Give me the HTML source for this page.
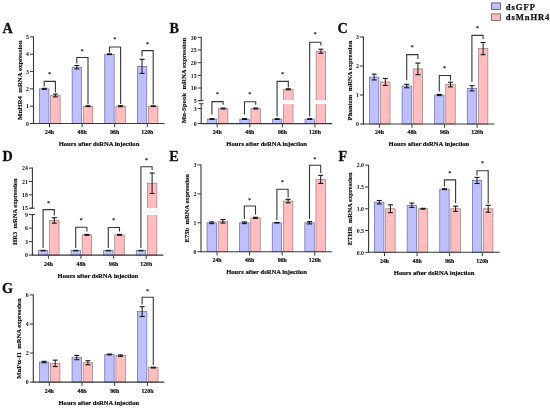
<!DOCTYPE html>
<html><head><meta charset="utf-8"><title>Figure</title>
<style>
html,body{margin:0;padding:0;background:#fff;}
body{width:550px;height:408px;overflow:hidden;}
svg{display:block;filter:blur(0.35px);}
svg text{font-family:'Liberation Serif', 'Times New Roman', serif;font-weight:bold;fill:#111;}
</style></head><body>
<svg width="550" height="408" viewBox="0 0 550 408">
<rect width="550" height="408" fill="#fff"/>
<rect x="39.55" y="88.86" width="9.4" height="34.64" fill="#bfbffc" stroke="#6868a8" stroke-width="0.7"/>
<line x1="44.25" y1="88.34" x2="44.25" y2="89.38" stroke="#161616" stroke-width="1.0"/>
<line x1="41.75" y1="88.34" x2="46.75" y2="88.34" stroke="#161616" stroke-width="1.1"/>
<line x1="41.75" y1="89.38" x2="46.75" y2="89.38" stroke="#161616" stroke-width="1.1"/>
<rect x="50.65" y="95.44" width="9.5" height="28.06" fill="#ffbdbf" stroke="#9a7c7e" stroke-width="0.7"/>
<line x1="55.4" y1="94.06" x2="55.4" y2="96.83" stroke="#161616" stroke-width="1.0"/>
<line x1="52.9" y1="94.06" x2="57.9" y2="94.06" stroke="#161616" stroke-width="1.1"/>
<line x1="52.9" y1="96.83" x2="57.9" y2="96.83" stroke="#161616" stroke-width="1.1"/>
<rect x="72.15" y="67.21" width="9.4" height="56.29" fill="#bfbffc" stroke="#6868a8" stroke-width="0.7"/>
<line x1="76.85" y1="65.48" x2="76.85" y2="68.94" stroke="#161616" stroke-width="1.0"/>
<line x1="74.35" y1="65.48" x2="79.35" y2="65.48" stroke="#161616" stroke-width="1.1"/>
<line x1="74.35" y1="68.94" x2="79.35" y2="68.94" stroke="#161616" stroke-width="1.1"/>
<rect x="83.25" y="106.18" width="9.5" height="17.32" fill="#ffbdbf" stroke="#9a7c7e" stroke-width="0.7"/>
<line x1="88" y1="105.83" x2="88" y2="106.53" stroke="#161616" stroke-width="1.0"/>
<line x1="85.5" y1="105.83" x2="90.5" y2="105.83" stroke="#161616" stroke-width="1.1"/>
<line x1="85.5" y1="106.53" x2="90.5" y2="106.53" stroke="#161616" stroke-width="1.1"/>
<rect x="104.75" y="54.22" width="9.4" height="69.28" fill="#bfbffc" stroke="#6868a8" stroke-width="0.7"/>
<line x1="109.45" y1="53.87" x2="109.45" y2="54.57" stroke="#161616" stroke-width="1.0"/>
<line x1="106.95" y1="53.87" x2="111.95" y2="53.87" stroke="#161616" stroke-width="1.1"/>
<line x1="106.95" y1="54.57" x2="111.95" y2="54.57" stroke="#161616" stroke-width="1.1"/>
<rect x="115.85" y="106.18" width="9.5" height="17.32" fill="#ffbdbf" stroke="#9a7c7e" stroke-width="0.7"/>
<line x1="120.6" y1="105.66" x2="120.6" y2="106.7" stroke="#161616" stroke-width="1.0"/>
<line x1="118.1" y1="105.66" x2="123.1" y2="105.66" stroke="#161616" stroke-width="1.1"/>
<line x1="118.1" y1="106.7" x2="123.1" y2="106.7" stroke="#161616" stroke-width="1.1"/>
<rect x="137.35" y="66.34" width="9.4" height="57.16" fill="#bfbffc" stroke="#6868a8" stroke-width="0.7"/>
<line x1="142.05" y1="59.24" x2="142.05" y2="73.45" stroke="#161616" stroke-width="1.0"/>
<line x1="139.55" y1="59.24" x2="144.55" y2="59.24" stroke="#161616" stroke-width="1.1"/>
<line x1="139.55" y1="73.45" x2="144.55" y2="73.45" stroke="#161616" stroke-width="1.1"/>
<rect x="148.45" y="106.18" width="9.5" height="17.32" fill="#ffbdbf" stroke="#9a7c7e" stroke-width="0.7"/>
<line x1="153.2" y1="105.83" x2="153.2" y2="106.53" stroke="#161616" stroke-width="1.0"/>
<line x1="150.7" y1="105.83" x2="155.7" y2="105.83" stroke="#161616" stroke-width="1.1"/>
<line x1="150.7" y1="106.53" x2="155.7" y2="106.53" stroke="#161616" stroke-width="1.1"/>
<polyline points="44.2,86.5 44.2,81.4 55.4,81.4 55.4,92.5" fill="none" stroke="#363636" stroke-width="1.1"/>
<text x="49.6" y="76" font-size="6.5" text-anchor="middle">*</text>
<polyline points="76.8,63.5 76.8,57.5 88,57.5 88,104.5" fill="none" stroke="#363636" stroke-width="1.1"/>
<text x="82.2" y="52.5" font-size="6.5" text-anchor="middle">*</text>
<polyline points="109.4,52.5 109.4,47 120.6,47 120.6,104" fill="none" stroke="#363636" stroke-width="1.1"/>
<text x="114.8" y="41.4" font-size="6.5" text-anchor="middle">*</text>
<polyline points="142,56.5 142,50.6 153.2,50.6 153.2,104.5" fill="none" stroke="#363636" stroke-width="1.1"/>
<text x="147.4" y="46" font-size="6.5" text-anchor="middle">*</text>
<line x1="33.5" y1="36.4" x2="33.5" y2="124" stroke="#363636" stroke-width="1.1"/>
<line x1="33" y1="123.5" x2="164.5" y2="123.5" stroke="#363636" stroke-width="1.1"/>
<line x1="29.9" y1="123.5" x2="33.5" y2="123.5" stroke="#363636" stroke-width="1.0"/>
<text x="28.9" y="125.7" font-size="5.8" text-anchor="end">0</text>
<line x1="29.9" y1="106.18" x2="33.5" y2="106.18" stroke="#363636" stroke-width="1.0"/>
<text x="28.9" y="108.38" font-size="5.8" text-anchor="end">1</text>
<line x1="29.9" y1="88.86" x2="33.5" y2="88.86" stroke="#363636" stroke-width="1.0"/>
<text x="28.9" y="91.06" font-size="5.8" text-anchor="end">2</text>
<line x1="29.9" y1="71.54" x2="33.5" y2="71.54" stroke="#363636" stroke-width="1.0"/>
<text x="28.9" y="73.74" font-size="5.8" text-anchor="end">3</text>
<line x1="29.9" y1="54.22" x2="33.5" y2="54.22" stroke="#363636" stroke-width="1.0"/>
<text x="28.9" y="56.42" font-size="5.8" text-anchor="end">4</text>
<line x1="29.9" y1="36.9" x2="33.5" y2="36.9" stroke="#363636" stroke-width="1.0"/>
<text x="28.9" y="39.1" font-size="5.8" text-anchor="end">5</text>
<line x1="49.5" y1="123.5" x2="49.5" y2="127.3" stroke="#363636" stroke-width="1.0"/>
<text x="49.5" y="133.9" font-size="5.8" text-anchor="middle" stroke="#111" stroke-width="0.18">24h</text>
<line x1="82.1" y1="123.5" x2="82.1" y2="127.3" stroke="#363636" stroke-width="1.0"/>
<text x="82.1" y="133.9" font-size="5.8" text-anchor="middle" stroke="#111" stroke-width="0.18">48h</text>
<line x1="114.7" y1="123.5" x2="114.7" y2="127.3" stroke="#363636" stroke-width="1.0"/>
<text x="114.7" y="133.9" font-size="5.8" text-anchor="middle" stroke="#111" stroke-width="0.18">96h</text>
<line x1="147.3" y1="123.5" x2="147.3" y2="127.3" stroke="#363636" stroke-width="1.0"/>
<text x="147.3" y="133.9" font-size="5.8" text-anchor="middle" stroke="#111" stroke-width="0.18">120h</text>
<text x="99" y="145.9" font-size="6.6" text-anchor="middle" stroke="#111" stroke-width="0.2">Hours after dsRNA injection</text>
<text x="0" y="0" font-size="6.8" text-anchor="middle" transform="translate(22.2 80.2) rotate(-90)" xml:space="preserve" stroke="#111" stroke-width="0.15">MnHR4  mRNA expression</text>
<text x="2.4" y="32.9" font-size="14.2" text-anchor="start" stroke="#111" stroke-width="0.3">A</text>
<rect x="207.25" y="119.07" width="9.4" height="4.53" fill="#bfbffc" stroke="#6868a8" stroke-width="0.7"/>
<line x1="211.95" y1="118.67" x2="211.95" y2="119.47" stroke="#161616" stroke-width="1.0"/>
<line x1="209.45" y1="118.67" x2="214.45" y2="118.67" stroke="#161616" stroke-width="1.1"/>
<line x1="209.45" y1="119.47" x2="214.45" y2="119.47" stroke="#161616" stroke-width="1.1"/>
<rect x="218.35" y="108.5" width="9.5" height="15.1" fill="#ffbdbf" stroke="#9a7c7e" stroke-width="0.7"/>
<line x1="223.1" y1="108" x2="223.1" y2="109" stroke="#161616" stroke-width="1.0"/>
<line x1="220.6" y1="108" x2="225.6" y2="108" stroke="#161616" stroke-width="1.1"/>
<line x1="220.6" y1="109" x2="225.6" y2="109" stroke="#161616" stroke-width="1.1"/>
<rect x="239.85" y="119.07" width="9.4" height="4.53" fill="#bfbffc" stroke="#6868a8" stroke-width="0.7"/>
<line x1="244.55" y1="118.67" x2="244.55" y2="119.47" stroke="#161616" stroke-width="1.0"/>
<line x1="242.05" y1="118.67" x2="247.05" y2="118.67" stroke="#161616" stroke-width="1.1"/>
<line x1="242.05" y1="119.47" x2="247.05" y2="119.47" stroke="#161616" stroke-width="1.1"/>
<rect x="250.95" y="108.5" width="9.5" height="15.1" fill="#ffbdbf" stroke="#9a7c7e" stroke-width="0.7"/>
<line x1="255.7" y1="108" x2="255.7" y2="109" stroke="#161616" stroke-width="1.0"/>
<line x1="253.2" y1="108" x2="258.2" y2="108" stroke="#161616" stroke-width="1.1"/>
<line x1="253.2" y1="109" x2="258.2" y2="109" stroke="#161616" stroke-width="1.1"/>
<rect x="272.45" y="119.07" width="9.4" height="4.53" fill="#bfbffc" stroke="#6868a8" stroke-width="0.7"/>
<line x1="277.15" y1="118.67" x2="277.15" y2="119.47" stroke="#161616" stroke-width="1.0"/>
<line x1="274.65" y1="118.67" x2="279.65" y2="118.67" stroke="#161616" stroke-width="1.1"/>
<line x1="274.65" y1="119.47" x2="279.65" y2="119.47" stroke="#161616" stroke-width="1.1"/>
<rect x="283.55" y="89.29" width="9.5" height="34.31" fill="#ffbdbf" stroke="#9a7c7e" stroke-width="0.7"/>
<rect x="282.6" y="100.1" width="11.4" height="4" fill="#fff"/>
<line x1="288.3" y1="88.78" x2="288.3" y2="89.8" stroke="#161616" stroke-width="1.0"/>
<line x1="285.8" y1="88.78" x2="290.8" y2="88.78" stroke="#161616" stroke-width="1.1"/>
<line x1="285.8" y1="89.8" x2="290.8" y2="89.8" stroke="#161616" stroke-width="1.1"/>
<rect x="305.05" y="119.07" width="9.4" height="4.53" fill="#bfbffc" stroke="#6868a8" stroke-width="0.7"/>
<line x1="309.75" y1="118.67" x2="309.75" y2="119.47" stroke="#161616" stroke-width="1.0"/>
<line x1="307.25" y1="118.67" x2="312.25" y2="118.67" stroke="#161616" stroke-width="1.1"/>
<line x1="307.25" y1="119.47" x2="312.25" y2="119.47" stroke="#161616" stroke-width="1.1"/>
<rect x="316.15" y="51.25" width="9.5" height="72.35" fill="#ffbdbf" stroke="#9a7c7e" stroke-width="0.7"/>
<rect x="315.2" y="100.1" width="11.4" height="4" fill="#fff"/>
<line x1="320.9" y1="49.22" x2="320.9" y2="53.28" stroke="#161616" stroke-width="1.0"/>
<line x1="318.4" y1="49.22" x2="323.4" y2="49.22" stroke="#161616" stroke-width="1.1"/>
<line x1="318.4" y1="53.28" x2="323.4" y2="53.28" stroke="#161616" stroke-width="1.1"/>
<polyline points="211.9,114.5 211.9,101.6 223.1,101.6 223.1,104.8" fill="none" stroke="#363636" stroke-width="1.1"/>
<text x="217.3" y="96.1" font-size="6.5" text-anchor="middle">*</text>
<polyline points="244.5,114.5 244.5,101.7 255.7,101.7 255.7,104.8" fill="none" stroke="#363636" stroke-width="1.1"/>
<text x="249.9" y="96.4" font-size="6.5" text-anchor="middle">*</text>
<polyline points="277.1,116.5 277.1,81.4 288.3,81.4 288.3,87.5" fill="none" stroke="#363636" stroke-width="1.1"/>
<text x="282.5" y="76.2" font-size="6.5" text-anchor="middle">*</text>
<polyline points="309.7,116.5 309.7,42.3 320.9,42.3 320.9,45.6" fill="none" stroke="#363636" stroke-width="1.1"/>
<text x="315.1" y="36.4" font-size="6.5" text-anchor="middle">*</text>
<line x1="201.2" y1="103.7" x2="201.2" y2="124.1" stroke="#363636" stroke-width="1.1"/>
<line x1="201.2" y1="36.8" x2="201.2" y2="100.7" stroke="#363636" stroke-width="1.1"/>
<line x1="198.8" y1="103.7" x2="203.6" y2="103.7" stroke="#363636" stroke-width="1.0"/>
<line x1="198.8" y1="100.7" x2="203.6" y2="100.7" stroke="#363636" stroke-width="1.0"/>
<line x1="200.7" y1="123.6" x2="332.2" y2="123.6" stroke="#363636" stroke-width="1.1"/>
<line x1="197.6" y1="123.6" x2="201.2" y2="123.6" stroke="#363636" stroke-width="1.0"/>
<text x="196.6" y="125.8" font-size="5.8" text-anchor="end">0</text>
<line x1="197.6" y1="108.5" x2="201.2" y2="108.5" stroke="#363636" stroke-width="1.0"/>
<text x="196.6" y="110.7" font-size="5.8" text-anchor="end">3</text>
<line x1="197.6" y1="100.7" x2="201.2" y2="100.7" stroke="#363636" stroke-width="1.0"/>
<text x="196.6" y="102.9" font-size="5.8" text-anchor="end">5</text>
<line x1="197.6" y1="88.02" x2="201.2" y2="88.02" stroke="#363636" stroke-width="1.0"/>
<text x="196.6" y="90.22" font-size="5.8" text-anchor="end">10</text>
<line x1="197.6" y1="75.34" x2="201.2" y2="75.34" stroke="#363636" stroke-width="1.0"/>
<text x="196.6" y="77.54" font-size="5.8" text-anchor="end">15</text>
<line x1="197.6" y1="62.66" x2="201.2" y2="62.66" stroke="#363636" stroke-width="1.0"/>
<text x="196.6" y="64.86" font-size="5.8" text-anchor="end">20</text>
<line x1="197.6" y1="49.98" x2="201.2" y2="49.98" stroke="#363636" stroke-width="1.0"/>
<text x="196.6" y="52.18" font-size="5.8" text-anchor="end">25</text>
<line x1="197.6" y1="37.3" x2="201.2" y2="37.3" stroke="#363636" stroke-width="1.0"/>
<text x="196.6" y="39.5" font-size="5.8" text-anchor="end">30</text>
<line x1="217.2" y1="123.6" x2="217.2" y2="127.4" stroke="#363636" stroke-width="1.0"/>
<text x="217.2" y="134" font-size="5.8" text-anchor="middle" stroke="#111" stroke-width="0.18">24h</text>
<line x1="249.8" y1="123.6" x2="249.8" y2="127.4" stroke="#363636" stroke-width="1.0"/>
<text x="249.8" y="134" font-size="5.8" text-anchor="middle" stroke="#111" stroke-width="0.18">48h</text>
<line x1="282.4" y1="123.6" x2="282.4" y2="127.4" stroke="#363636" stroke-width="1.0"/>
<text x="282.4" y="134" font-size="5.8" text-anchor="middle" stroke="#111" stroke-width="0.18">96h</text>
<line x1="315" y1="123.6" x2="315" y2="127.4" stroke="#363636" stroke-width="1.0"/>
<text x="315" y="134" font-size="5.8" text-anchor="middle" stroke="#111" stroke-width="0.18">120h</text>
<text x="266.7" y="146" font-size="6.6" text-anchor="middle" stroke="#111" stroke-width="0.2">Hours after dsRNA injection</text>
<text x="0" y="0" font-size="6.75" text-anchor="middle" transform="translate(185.6 80.5) rotate(-90)" xml:space="preserve" stroke="#111" stroke-width="0.15">Mn-Spook  mRNA expression</text>
<text x="169.4" y="32.6" font-size="14.2" text-anchor="start" stroke="#111" stroke-width="0.3">B</text>
<rect x="369.45" y="77.02" width="9.4" height="46.98" fill="#bfbffc" stroke="#6868a8" stroke-width="0.7"/>
<line x1="374.15" y1="74.12" x2="374.15" y2="79.92" stroke="#161616" stroke-width="1.0"/>
<line x1="371.65" y1="74.12" x2="376.65" y2="74.12" stroke="#161616" stroke-width="1.1"/>
<line x1="371.65" y1="79.92" x2="376.65" y2="79.92" stroke="#161616" stroke-width="1.1"/>
<rect x="380.55" y="81.95" width="9.5" height="42.05" fill="#ffbdbf" stroke="#9a7c7e" stroke-width="0.7"/>
<line x1="385.3" y1="78.47" x2="385.3" y2="85.43" stroke="#161616" stroke-width="1.0"/>
<line x1="382.8" y1="78.47" x2="387.8" y2="78.47" stroke="#161616" stroke-width="1.1"/>
<line x1="382.8" y1="85.43" x2="387.8" y2="85.43" stroke="#161616" stroke-width="1.1"/>
<rect x="402.05" y="86.01" width="9.4" height="37.99" fill="#bfbffc" stroke="#6868a8" stroke-width="0.7"/>
<line x1="406.75" y1="84.27" x2="406.75" y2="87.75" stroke="#161616" stroke-width="1.0"/>
<line x1="404.25" y1="84.27" x2="409.25" y2="84.27" stroke="#161616" stroke-width="1.1"/>
<line x1="404.25" y1="87.75" x2="409.25" y2="87.75" stroke="#161616" stroke-width="1.1"/>
<rect x="413.15" y="68.9" width="9.5" height="55.1" fill="#ffbdbf" stroke="#9a7c7e" stroke-width="0.7"/>
<line x1="417.9" y1="63.1" x2="417.9" y2="74.7" stroke="#161616" stroke-width="1.0"/>
<line x1="415.4" y1="63.1" x2="420.4" y2="63.1" stroke="#161616" stroke-width="1.1"/>
<line x1="415.4" y1="74.7" x2="420.4" y2="74.7" stroke="#161616" stroke-width="1.1"/>
<rect x="434.65" y="95" width="9.4" height="29" fill="#bfbffc" stroke="#6868a8" stroke-width="0.7"/>
<line x1="439.35" y1="94.42" x2="439.35" y2="95.58" stroke="#161616" stroke-width="1.0"/>
<line x1="436.85" y1="94.42" x2="441.85" y2="94.42" stroke="#161616" stroke-width="1.1"/>
<line x1="436.85" y1="95.58" x2="441.85" y2="95.58" stroke="#161616" stroke-width="1.1"/>
<rect x="445.75" y="84.56" width="9.5" height="39.44" fill="#ffbdbf" stroke="#9a7c7e" stroke-width="0.7"/>
<line x1="450.5" y1="82.24" x2="450.5" y2="86.88" stroke="#161616" stroke-width="1.0"/>
<line x1="448" y1="82.24" x2="453" y2="82.24" stroke="#161616" stroke-width="1.1"/>
<line x1="448" y1="86.88" x2="453" y2="86.88" stroke="#161616" stroke-width="1.1"/>
<rect x="467.25" y="88.33" width="9.4" height="35.67" fill="#bfbffc" stroke="#6868a8" stroke-width="0.7"/>
<line x1="471.95" y1="85.72" x2="471.95" y2="90.94" stroke="#161616" stroke-width="1.0"/>
<line x1="469.45" y1="85.72" x2="474.45" y2="85.72" stroke="#161616" stroke-width="1.1"/>
<line x1="469.45" y1="90.94" x2="474.45" y2="90.94" stroke="#161616" stroke-width="1.1"/>
<rect x="478.35" y="48.6" width="9.5" height="75.4" fill="#ffbdbf" stroke="#9a7c7e" stroke-width="0.7"/>
<line x1="483.1" y1="42.51" x2="483.1" y2="54.69" stroke="#161616" stroke-width="1.0"/>
<line x1="480.6" y1="42.51" x2="485.6" y2="42.51" stroke="#161616" stroke-width="1.1"/>
<line x1="480.6" y1="54.69" x2="485.6" y2="54.69" stroke="#161616" stroke-width="1.1"/>
<polyline points="406.7,80.3 406.7,54.6 417.9,54.6 417.9,59" fill="none" stroke="#363636" stroke-width="1.1"/>
<text x="412.1" y="48.8" font-size="6.5" text-anchor="middle">*</text>
<polyline points="439.3,91.5 439.3,75.5 450.5,75.5 450.5,80.5" fill="none" stroke="#363636" stroke-width="1.1"/>
<text x="444.7" y="70.2" font-size="6.5" text-anchor="middle">*</text>
<polyline points="471.9,82 471.9,35.4 483.1,35.4 483.1,39" fill="none" stroke="#363636" stroke-width="1.1"/>
<text x="477.3" y="30.2" font-size="6.5" text-anchor="middle">*</text>
<line x1="363.4" y1="36.5" x2="363.4" y2="124.5" stroke="#363636" stroke-width="1.1"/>
<line x1="362.9" y1="124" x2="494.4" y2="124" stroke="#363636" stroke-width="1.1"/>
<line x1="359.8" y1="124" x2="363.4" y2="124" stroke="#363636" stroke-width="1.0"/>
<text x="358.8" y="126.2" font-size="5.8" text-anchor="end">0</text>
<line x1="359.8" y1="95" x2="363.4" y2="95" stroke="#363636" stroke-width="1.0"/>
<text x="358.8" y="97.2" font-size="5.8" text-anchor="end">1</text>
<line x1="359.8" y1="66" x2="363.4" y2="66" stroke="#363636" stroke-width="1.0"/>
<text x="358.8" y="68.2" font-size="5.8" text-anchor="end">2</text>
<line x1="359.8" y1="37" x2="363.4" y2="37" stroke="#363636" stroke-width="1.0"/>
<text x="358.8" y="39.2" font-size="5.8" text-anchor="end">3</text>
<line x1="379.4" y1="124" x2="379.4" y2="127.8" stroke="#363636" stroke-width="1.0"/>
<text x="379.4" y="134.4" font-size="5.8" text-anchor="middle" stroke="#111" stroke-width="0.18">24h</text>
<line x1="412" y1="124" x2="412" y2="127.8" stroke="#363636" stroke-width="1.0"/>
<text x="412" y="134.4" font-size="5.8" text-anchor="middle" stroke="#111" stroke-width="0.18">48h</text>
<line x1="444.6" y1="124" x2="444.6" y2="127.8" stroke="#363636" stroke-width="1.0"/>
<text x="444.6" y="134.4" font-size="5.8" text-anchor="middle" stroke="#111" stroke-width="0.18">96h</text>
<line x1="477.2" y1="124" x2="477.2" y2="127.8" stroke="#363636" stroke-width="1.0"/>
<text x="477.2" y="134.4" font-size="5.8" text-anchor="middle" stroke="#111" stroke-width="0.18">120h</text>
<text x="428.9" y="146.4" font-size="6.6" text-anchor="middle" stroke="#111" stroke-width="0.2">Hours after dsRNA injection</text>
<text x="0" y="0" font-size="6.62" text-anchor="middle" transform="translate(352.2 80.5) rotate(-90)" xml:space="preserve" stroke="#111" stroke-width="0.15">Phantom  mRNA expression</text>
<text x="337.4" y="33.2" font-size="14.2" text-anchor="start" stroke="#111" stroke-width="0.3">C</text>
<rect x="38.45" y="250.6" width="9.4" height="4.5" fill="#bfbffc" stroke="#6868a8" stroke-width="0.7"/>
<line x1="43.15" y1="250.38" x2="43.15" y2="250.82" stroke="#161616" stroke-width="1.0"/>
<line x1="40.65" y1="250.38" x2="45.65" y2="250.38" stroke="#161616" stroke-width="1.1"/>
<line x1="40.65" y1="250.82" x2="45.65" y2="250.82" stroke="#161616" stroke-width="1.1"/>
<rect x="49.55" y="220.45" width="9.5" height="34.65" fill="#ffbdbf" stroke="#9a7c7e" stroke-width="0.7"/>
<line x1="54.3" y1="217.75" x2="54.3" y2="223.15" stroke="#161616" stroke-width="1.0"/>
<line x1="51.8" y1="217.75" x2="56.8" y2="217.75" stroke="#161616" stroke-width="1.1"/>
<line x1="51.8" y1="223.15" x2="56.8" y2="223.15" stroke="#161616" stroke-width="1.1"/>
<rect x="71.05" y="250.6" width="9.4" height="4.5" fill="#bfbffc" stroke="#6868a8" stroke-width="0.7"/>
<line x1="75.75" y1="250.38" x2="75.75" y2="250.82" stroke="#161616" stroke-width="1.0"/>
<line x1="73.25" y1="250.38" x2="78.25" y2="250.38" stroke="#161616" stroke-width="1.1"/>
<line x1="73.25" y1="250.82" x2="78.25" y2="250.82" stroke="#161616" stroke-width="1.1"/>
<rect x="82.15" y="234.85" width="9.5" height="20.25" fill="#ffbdbf" stroke="#9a7c7e" stroke-width="0.7"/>
<line x1="86.9" y1="234.4" x2="86.9" y2="235.3" stroke="#161616" stroke-width="1.0"/>
<line x1="84.4" y1="234.4" x2="89.4" y2="234.4" stroke="#161616" stroke-width="1.1"/>
<line x1="84.4" y1="235.3" x2="89.4" y2="235.3" stroke="#161616" stroke-width="1.1"/>
<rect x="103.65" y="250.6" width="9.4" height="4.5" fill="#bfbffc" stroke="#6868a8" stroke-width="0.7"/>
<line x1="108.35" y1="250.38" x2="108.35" y2="250.82" stroke="#161616" stroke-width="1.0"/>
<line x1="105.85" y1="250.38" x2="110.85" y2="250.38" stroke="#161616" stroke-width="1.1"/>
<line x1="105.85" y1="250.82" x2="110.85" y2="250.82" stroke="#161616" stroke-width="1.1"/>
<rect x="114.75" y="234.85" width="9.5" height="20.25" fill="#ffbdbf" stroke="#9a7c7e" stroke-width="0.7"/>
<line x1="119.5" y1="234.4" x2="119.5" y2="235.3" stroke="#161616" stroke-width="1.0"/>
<line x1="117" y1="234.4" x2="122" y2="234.4" stroke="#161616" stroke-width="1.1"/>
<line x1="117" y1="235.3" x2="122" y2="235.3" stroke="#161616" stroke-width="1.1"/>
<rect x="136.25" y="250.6" width="9.4" height="4.5" fill="#bfbffc" stroke="#6868a8" stroke-width="0.7"/>
<line x1="140.95" y1="250.38" x2="140.95" y2="250.82" stroke="#161616" stroke-width="1.0"/>
<line x1="138.45" y1="250.38" x2="143.45" y2="250.38" stroke="#161616" stroke-width="1.1"/>
<line x1="138.45" y1="250.82" x2="143.45" y2="250.82" stroke="#161616" stroke-width="1.1"/>
<rect x="147.35" y="183.25" width="9.5" height="71.85" fill="#ffbdbf" stroke="#9a7c7e" stroke-width="0.7"/>
<rect x="146.4" y="208" width="11.4" height="7" fill="#fff"/>
<line x1="152.1" y1="173" x2="152.1" y2="193.5" stroke="#161616" stroke-width="1.0"/>
<line x1="149.6" y1="173" x2="154.6" y2="173" stroke="#161616" stroke-width="1.1"/>
<line x1="149.6" y1="193.5" x2="154.6" y2="193.5" stroke="#161616" stroke-width="1.1"/>
<polyline points="43.1,248 43.1,209.6 54.3,209.6 54.3,215.5" fill="none" stroke="#363636" stroke-width="1.1"/>
<text x="48.5" y="204.5" font-size="6.5" text-anchor="middle">*</text>
<polyline points="75.7,248 75.7,227.3 86.9,227.3 86.9,231.5" fill="none" stroke="#363636" stroke-width="1.1"/>
<text x="81.1" y="222.3" font-size="6.5" text-anchor="middle">*</text>
<polyline points="108.3,248 108.3,227.5 119.5,227.5 119.5,231.5" fill="none" stroke="#363636" stroke-width="1.1"/>
<text x="113.7" y="222" font-size="6.5" text-anchor="middle">*</text>
<polyline points="140.9,248 140.9,166.8 152.1,166.8 152.1,170" fill="none" stroke="#363636" stroke-width="1.1"/>
<text x="146.3" y="161.6" font-size="6.5" text-anchor="middle">*</text>
<line x1="32.4" y1="214.5" x2="32.4" y2="255.6" stroke="#363636" stroke-width="1.1"/>
<line x1="32.4" y1="167.6" x2="32.4" y2="208.2" stroke="#363636" stroke-width="1.1"/>
<line x1="30" y1="214.5" x2="34.8" y2="214.5" stroke="#363636" stroke-width="1.0"/>
<line x1="30" y1="208.2" x2="34.8" y2="208.2" stroke="#363636" stroke-width="1.0"/>
<line x1="31.9" y1="255.1" x2="163.4" y2="255.1" stroke="#363636" stroke-width="1.1"/>
<line x1="28.8" y1="255.1" x2="32.4" y2="255.1" stroke="#363636" stroke-width="1.0"/>
<text x="27.8" y="257.3" font-size="5.8" text-anchor="end">0</text>
<line x1="28.8" y1="241.6" x2="32.4" y2="241.6" stroke="#363636" stroke-width="1.0"/>
<text x="27.8" y="243.8" font-size="5.8" text-anchor="end">3</text>
<line x1="28.8" y1="228.1" x2="32.4" y2="228.1" stroke="#363636" stroke-width="1.0"/>
<text x="27.8" y="230.3" font-size="5.8" text-anchor="end">6</text>
<line x1="28.8" y1="214.6" x2="32.4" y2="214.6" stroke="#363636" stroke-width="1.0"/>
<text x="27.8" y="216.8" font-size="5.8" text-anchor="end">9</text>
<line x1="28.8" y1="208.2" x2="32.4" y2="208.2" stroke="#363636" stroke-width="1.0"/>
<text x="27.8" y="210.4" font-size="5.8" text-anchor="end">15</text>
<line x1="28.8" y1="194.83" x2="32.4" y2="194.83" stroke="#363636" stroke-width="1.0"/>
<text x="27.8" y="197.03" font-size="5.8" text-anchor="end">18</text>
<line x1="28.8" y1="181.47" x2="32.4" y2="181.47" stroke="#363636" stroke-width="1.0"/>
<text x="27.8" y="183.67" font-size="5.8" text-anchor="end">21</text>
<line x1="28.8" y1="168.1" x2="32.4" y2="168.1" stroke="#363636" stroke-width="1.0"/>
<text x="27.8" y="170.3" font-size="5.8" text-anchor="end">24</text>
<line x1="48.4" y1="255.1" x2="48.4" y2="258.9" stroke="#363636" stroke-width="1.0"/>
<text x="48.4" y="265.5" font-size="5.8" text-anchor="middle" stroke="#111" stroke-width="0.18">24h</text>
<line x1="81" y1="255.1" x2="81" y2="258.9" stroke="#363636" stroke-width="1.0"/>
<text x="81" y="265.5" font-size="5.8" text-anchor="middle" stroke="#111" stroke-width="0.18">48h</text>
<line x1="113.6" y1="255.1" x2="113.6" y2="258.9" stroke="#363636" stroke-width="1.0"/>
<text x="113.6" y="265.5" font-size="5.8" text-anchor="middle" stroke="#111" stroke-width="0.18">96h</text>
<line x1="146.2" y1="255.1" x2="146.2" y2="258.9" stroke="#363636" stroke-width="1.0"/>
<text x="146.2" y="265.5" font-size="5.8" text-anchor="middle" stroke="#111" stroke-width="0.18">120h</text>
<text x="97.9" y="277.5" font-size="6.6" text-anchor="middle" stroke="#111" stroke-width="0.2">Hours after dsRNA injection</text>
<text x="0" y="0" font-size="6.55" text-anchor="middle" transform="translate(17.2 211.6) rotate(-90)" xml:space="preserve" stroke="#111" stroke-width="0.15">HR3  mRNA expression</text>
<text x="2.6" y="161" font-size="14.2" text-anchor="start" stroke="#111" stroke-width="0.3">D</text>
<rect x="207.05" y="222.77" width="9.4" height="28.93" fill="#bfbffc" stroke="#6868a8" stroke-width="0.7"/>
<line x1="211.75" y1="221.9" x2="211.75" y2="223.63" stroke="#161616" stroke-width="1.0"/>
<line x1="209.25" y1="221.9" x2="214.25" y2="221.9" stroke="#161616" stroke-width="1.1"/>
<line x1="209.25" y1="223.63" x2="214.25" y2="223.63" stroke="#161616" stroke-width="1.1"/>
<rect x="218.15" y="221.32" width="9.5" height="30.38" fill="#ffbdbf" stroke="#9a7c7e" stroke-width="0.7"/>
<line x1="222.9" y1="219.58" x2="222.9" y2="223.06" stroke="#161616" stroke-width="1.0"/>
<line x1="220.4" y1="219.58" x2="225.4" y2="219.58" stroke="#161616" stroke-width="1.1"/>
<line x1="220.4" y1="223.06" x2="225.4" y2="223.06" stroke="#161616" stroke-width="1.1"/>
<rect x="239.65" y="222.77" width="9.4" height="28.93" fill="#bfbffc" stroke="#6868a8" stroke-width="0.7"/>
<line x1="244.35" y1="221.9" x2="244.35" y2="223.63" stroke="#161616" stroke-width="1.0"/>
<line x1="241.85" y1="221.9" x2="246.85" y2="221.9" stroke="#161616" stroke-width="1.1"/>
<line x1="241.85" y1="223.63" x2="246.85" y2="223.63" stroke="#161616" stroke-width="1.1"/>
<rect x="250.75" y="217.85" width="9.5" height="33.85" fill="#ffbdbf" stroke="#9a7c7e" stroke-width="0.7"/>
<line x1="255.5" y1="217.27" x2="255.5" y2="218.43" stroke="#161616" stroke-width="1.0"/>
<line x1="253" y1="217.27" x2="258" y2="217.27" stroke="#161616" stroke-width="1.1"/>
<line x1="253" y1="218.43" x2="258" y2="218.43" stroke="#161616" stroke-width="1.1"/>
<rect x="272.25" y="222.77" width="9.4" height="28.93" fill="#bfbffc" stroke="#6868a8" stroke-width="0.7"/>
<line x1="276.95" y1="222.48" x2="276.95" y2="223.06" stroke="#161616" stroke-width="1.0"/>
<line x1="274.45" y1="222.48" x2="279.45" y2="222.48" stroke="#161616" stroke-width="1.1"/>
<line x1="274.45" y1="223.06" x2="279.45" y2="223.06" stroke="#161616" stroke-width="1.1"/>
<rect x="283.35" y="201.07" width="9.5" height="50.63" fill="#ffbdbf" stroke="#9a7c7e" stroke-width="0.7"/>
<line x1="288.1" y1="199.33" x2="288.1" y2="202.8" stroke="#161616" stroke-width="1.0"/>
<line x1="285.6" y1="199.33" x2="290.6" y2="199.33" stroke="#161616" stroke-width="1.1"/>
<line x1="285.6" y1="202.8" x2="290.6" y2="202.8" stroke="#161616" stroke-width="1.1"/>
<rect x="304.85" y="222.77" width="9.4" height="28.93" fill="#bfbffc" stroke="#6868a8" stroke-width="0.7"/>
<line x1="309.55" y1="221.61" x2="309.55" y2="223.92" stroke="#161616" stroke-width="1.0"/>
<line x1="307.05" y1="221.61" x2="312.05" y2="221.61" stroke="#161616" stroke-width="1.1"/>
<line x1="307.05" y1="223.92" x2="312.05" y2="223.92" stroke="#161616" stroke-width="1.1"/>
<rect x="315.95" y="179.37" width="9.5" height="72.33" fill="#ffbdbf" stroke="#9a7c7e" stroke-width="0.7"/>
<line x1="320.7" y1="175.32" x2="320.7" y2="183.42" stroke="#161616" stroke-width="1.0"/>
<line x1="318.2" y1="175.32" x2="323.2" y2="175.32" stroke="#161616" stroke-width="1.1"/>
<line x1="318.2" y1="183.42" x2="323.2" y2="183.42" stroke="#161616" stroke-width="1.1"/>
<polyline points="244.3,219 244.3,206 255.5,206 255.5,214.5" fill="none" stroke="#363636" stroke-width="1.1"/>
<text x="249.7" y="201.7" font-size="6.5" text-anchor="middle">*</text>
<polyline points="276.9,220 276.9,189.3 288.1,189.3 288.1,197.5" fill="none" stroke="#363636" stroke-width="1.1"/>
<text x="282.3" y="184" font-size="6.5" text-anchor="middle">*</text>
<polyline points="309.5,219 309.5,165.3 320.7,165.3 320.7,173" fill="none" stroke="#363636" stroke-width="1.1"/>
<text x="314.9" y="160.8" font-size="6.5" text-anchor="middle">*</text>
<line x1="201" y1="164.4" x2="201" y2="252.2" stroke="#363636" stroke-width="1.1"/>
<line x1="200.5" y1="251.7" x2="332" y2="251.7" stroke="#363636" stroke-width="1.1"/>
<line x1="197.4" y1="251.7" x2="201" y2="251.7" stroke="#363636" stroke-width="1.0"/>
<text x="196.4" y="253.9" font-size="5.8" text-anchor="end">0</text>
<line x1="197.4" y1="222.77" x2="201" y2="222.77" stroke="#363636" stroke-width="1.0"/>
<text x="196.4" y="224.97" font-size="5.8" text-anchor="end">1</text>
<line x1="197.4" y1="193.83" x2="201" y2="193.83" stroke="#363636" stroke-width="1.0"/>
<text x="196.4" y="196.03" font-size="5.8" text-anchor="end">2</text>
<line x1="197.4" y1="164.9" x2="201" y2="164.9" stroke="#363636" stroke-width="1.0"/>
<text x="196.4" y="167.1" font-size="5.8" text-anchor="end">3</text>
<line x1="217" y1="251.7" x2="217" y2="255.5" stroke="#363636" stroke-width="1.0"/>
<text x="217" y="262.1" font-size="5.8" text-anchor="middle" stroke="#111" stroke-width="0.18">24h</text>
<line x1="249.6" y1="251.7" x2="249.6" y2="255.5" stroke="#363636" stroke-width="1.0"/>
<text x="249.6" y="262.1" font-size="5.8" text-anchor="middle" stroke="#111" stroke-width="0.18">48h</text>
<line x1="282.2" y1="251.7" x2="282.2" y2="255.5" stroke="#363636" stroke-width="1.0"/>
<text x="282.2" y="262.1" font-size="5.8" text-anchor="middle" stroke="#111" stroke-width="0.18">96h</text>
<line x1="314.8" y1="251.7" x2="314.8" y2="255.5" stroke="#363636" stroke-width="1.0"/>
<text x="314.8" y="262.1" font-size="5.8" text-anchor="middle" stroke="#111" stroke-width="0.18">120h</text>
<text x="266.5" y="274.1" font-size="6.6" text-anchor="middle" stroke="#111" stroke-width="0.2">Hours after dsRNA injection</text>
<text x="0" y="0" font-size="6.58" text-anchor="middle" transform="translate(189 208.3) rotate(-90)" xml:space="preserve" stroke="#111" stroke-width="0.15">E75b  mRNA expression</text>
<text x="169.2" y="161" font-size="14.2" text-anchor="start" stroke="#111" stroke-width="0.3">E</text>
<rect x="374.55" y="202.22" width="9.4" height="50.08" fill="#bfbffc" stroke="#6868a8" stroke-width="0.7"/>
<line x1="379.25" y1="200.48" x2="379.25" y2="203.96" stroke="#161616" stroke-width="1.0"/>
<line x1="376.75" y1="200.48" x2="381.75" y2="200.48" stroke="#161616" stroke-width="1.1"/>
<line x1="376.75" y1="203.96" x2="381.75" y2="203.96" stroke="#161616" stroke-width="1.1"/>
<rect x="385.65" y="208.75" width="9.5" height="43.55" fill="#ffbdbf" stroke="#9a7c7e" stroke-width="0.7"/>
<line x1="390.4" y1="204.83" x2="390.4" y2="212.67" stroke="#161616" stroke-width="1.0"/>
<line x1="387.9" y1="204.83" x2="392.9" y2="204.83" stroke="#161616" stroke-width="1.1"/>
<line x1="387.9" y1="212.67" x2="392.9" y2="212.67" stroke="#161616" stroke-width="1.1"/>
<rect x="407.15" y="205.27" width="9.4" height="47.03" fill="#bfbffc" stroke="#6868a8" stroke-width="0.7"/>
<line x1="411.85" y1="203.09" x2="411.85" y2="207.44" stroke="#161616" stroke-width="1.0"/>
<line x1="409.35" y1="203.09" x2="414.35" y2="203.09" stroke="#161616" stroke-width="1.1"/>
<line x1="409.35" y1="207.44" x2="414.35" y2="207.44" stroke="#161616" stroke-width="1.1"/>
<rect x="418.25" y="208.75" width="9.5" height="43.55" fill="#ffbdbf" stroke="#9a7c7e" stroke-width="0.7"/>
<line x1="423" y1="208.31" x2="423" y2="209.19" stroke="#161616" stroke-width="1.0"/>
<line x1="420.5" y1="208.31" x2="425.5" y2="208.31" stroke="#161616" stroke-width="1.1"/>
<line x1="420.5" y1="209.19" x2="425.5" y2="209.19" stroke="#161616" stroke-width="1.1"/>
<rect x="439.75" y="189.15" width="9.4" height="63.15" fill="#bfbffc" stroke="#6868a8" stroke-width="0.7"/>
<line x1="444.45" y1="188.72" x2="444.45" y2="189.59" stroke="#161616" stroke-width="1.0"/>
<line x1="441.95" y1="188.72" x2="446.95" y2="188.72" stroke="#161616" stroke-width="1.1"/>
<line x1="441.95" y1="189.59" x2="446.95" y2="189.59" stroke="#161616" stroke-width="1.1"/>
<rect x="450.85" y="208.75" width="9.5" height="43.55" fill="#ffbdbf" stroke="#9a7c7e" stroke-width="0.7"/>
<line x1="455.6" y1="206.14" x2="455.6" y2="211.36" stroke="#161616" stroke-width="1.0"/>
<line x1="453.1" y1="206.14" x2="458.1" y2="206.14" stroke="#161616" stroke-width="1.1"/>
<line x1="453.1" y1="211.36" x2="458.1" y2="211.36" stroke="#161616" stroke-width="1.1"/>
<rect x="472.35" y="180.44" width="9.4" height="71.86" fill="#bfbffc" stroke="#6868a8" stroke-width="0.7"/>
<line x1="477.05" y1="177.39" x2="477.05" y2="183.49" stroke="#161616" stroke-width="1.0"/>
<line x1="474.55" y1="177.39" x2="479.55" y2="177.39" stroke="#161616" stroke-width="1.1"/>
<line x1="474.55" y1="183.49" x2="479.55" y2="183.49" stroke="#161616" stroke-width="1.1"/>
<rect x="483.45" y="208.75" width="9.5" height="43.55" fill="#ffbdbf" stroke="#9a7c7e" stroke-width="0.7"/>
<line x1="488.2" y1="205.27" x2="488.2" y2="212.23" stroke="#161616" stroke-width="1.0"/>
<line x1="485.7" y1="205.27" x2="490.7" y2="205.27" stroke="#161616" stroke-width="1.1"/>
<line x1="485.7" y1="212.23" x2="490.7" y2="212.23" stroke="#161616" stroke-width="1.1"/>
<polyline points="444.4,186.5 444.4,179.9 455.6,179.9 455.6,203" fill="none" stroke="#363636" stroke-width="1.1"/>
<text x="449.8" y="174.9" font-size="6.5" text-anchor="middle">*</text>
<polyline points="477,175.5 477,170.8 488.2,170.8 488.2,203.5" fill="none" stroke="#363636" stroke-width="1.1"/>
<text x="482.4" y="165.1" font-size="6.5" text-anchor="middle">*</text>
<line x1="368.6" y1="164.7" x2="368.6" y2="252.8" stroke="#363636" stroke-width="1.1"/>
<line x1="368.1" y1="252.3" x2="499.6" y2="252.3" stroke="#363636" stroke-width="1.1"/>
<line x1="365" y1="252.3" x2="368.6" y2="252.3" stroke="#363636" stroke-width="1.0"/>
<text x="364" y="254.5" font-size="5.8" text-anchor="end">0.0</text>
<line x1="365" y1="230.53" x2="368.6" y2="230.53" stroke="#363636" stroke-width="1.0"/>
<text x="364" y="232.72" font-size="5.8" text-anchor="end">0.5</text>
<line x1="365" y1="208.75" x2="368.6" y2="208.75" stroke="#363636" stroke-width="1.0"/>
<text x="364" y="210.95" font-size="5.8" text-anchor="end">1.0</text>
<line x1="365" y1="186.97" x2="368.6" y2="186.97" stroke="#363636" stroke-width="1.0"/>
<text x="364" y="189.17" font-size="5.8" text-anchor="end">1.5</text>
<line x1="365" y1="165.2" x2="368.6" y2="165.2" stroke="#363636" stroke-width="1.0"/>
<text x="364" y="167.4" font-size="5.8" text-anchor="end">2.0</text>
<line x1="384.5" y1="252.3" x2="384.5" y2="256.1" stroke="#363636" stroke-width="1.0"/>
<text x="384.5" y="262.7" font-size="5.8" text-anchor="middle" stroke="#111" stroke-width="0.18">24h</text>
<line x1="417.1" y1="252.3" x2="417.1" y2="256.1" stroke="#363636" stroke-width="1.0"/>
<text x="417.1" y="262.7" font-size="5.8" text-anchor="middle" stroke="#111" stroke-width="0.18">48h</text>
<line x1="449.7" y1="252.3" x2="449.7" y2="256.1" stroke="#363636" stroke-width="1.0"/>
<text x="449.7" y="262.7" font-size="5.8" text-anchor="middle" stroke="#111" stroke-width="0.18">96h</text>
<line x1="482.3" y1="252.3" x2="482.3" y2="256.1" stroke="#363636" stroke-width="1.0"/>
<text x="482.3" y="262.7" font-size="5.8" text-anchor="middle" stroke="#111" stroke-width="0.18">120h</text>
<text x="434.1" y="274.7" font-size="6.6" text-anchor="middle" stroke="#111" stroke-width="0.2">Hours after dsRNA injection</text>
<text x="0" y="0" font-size="6.65" text-anchor="middle" transform="translate(352 208.75) rotate(-90)" xml:space="preserve" stroke="#111" stroke-width="0.15">ETHR  mRNA expression</text>
<text x="338.6" y="161" font-size="14.2" text-anchor="start" stroke="#111" stroke-width="0.3">F</text>
<rect x="39.35" y="362.04" width="9.4" height="20.06" fill="#bfbffc" stroke="#6868a8" stroke-width="0.7"/>
<line x1="44.05" y1="361.32" x2="44.05" y2="362.77" stroke="#161616" stroke-width="1.0"/>
<line x1="41.55" y1="361.32" x2="46.55" y2="361.32" stroke="#161616" stroke-width="1.1"/>
<line x1="41.55" y1="362.77" x2="46.55" y2="362.77" stroke="#161616" stroke-width="1.1"/>
<rect x="50.45" y="363.35" width="9.5" height="18.75" fill="#ffbdbf" stroke="#9a7c7e" stroke-width="0.7"/>
<line x1="55.2" y1="360.15" x2="55.2" y2="366.55" stroke="#161616" stroke-width="1.0"/>
<line x1="52.7" y1="360.15" x2="57.7" y2="360.15" stroke="#161616" stroke-width="1.1"/>
<line x1="52.7" y1="366.55" x2="57.7" y2="366.55" stroke="#161616" stroke-width="1.1"/>
<rect x="72.05" y="357.54" width="9.4" height="24.56" fill="#bfbffc" stroke="#6868a8" stroke-width="0.7"/>
<line x1="76.75" y1="355.36" x2="76.75" y2="359.72" stroke="#161616" stroke-width="1.0"/>
<line x1="74.25" y1="355.36" x2="79.25" y2="355.36" stroke="#161616" stroke-width="1.1"/>
<line x1="74.25" y1="359.72" x2="79.25" y2="359.72" stroke="#161616" stroke-width="1.1"/>
<rect x="83.15" y="362.77" width="9.5" height="19.33" fill="#ffbdbf" stroke="#9a7c7e" stroke-width="0.7"/>
<line x1="87.9" y1="360.74" x2="87.9" y2="364.81" stroke="#161616" stroke-width="1.0"/>
<line x1="85.4" y1="360.74" x2="90.4" y2="360.74" stroke="#161616" stroke-width="1.1"/>
<line x1="85.4" y1="364.81" x2="90.4" y2="364.81" stroke="#161616" stroke-width="1.1"/>
<rect x="104.75" y="354.49" width="9.4" height="27.61" fill="#bfbffc" stroke="#6868a8" stroke-width="0.7"/>
<line x1="109.45" y1="354.05" x2="109.45" y2="354.92" stroke="#161616" stroke-width="1.0"/>
<line x1="106.95" y1="354.05" x2="111.95" y2="354.05" stroke="#161616" stroke-width="1.1"/>
<line x1="106.95" y1="354.92" x2="111.95" y2="354.92" stroke="#161616" stroke-width="1.1"/>
<rect x="115.85" y="355.65" width="9.5" height="26.45" fill="#ffbdbf" stroke="#9a7c7e" stroke-width="0.7"/>
<line x1="120.6" y1="354.92" x2="120.6" y2="356.38" stroke="#161616" stroke-width="1.0"/>
<line x1="118.1" y1="354.92" x2="123.1" y2="354.92" stroke="#161616" stroke-width="1.1"/>
<line x1="118.1" y1="356.38" x2="123.1" y2="356.38" stroke="#161616" stroke-width="1.1"/>
<rect x="137.45" y="311.61" width="9.4" height="70.49" fill="#bfbffc" stroke="#6868a8" stroke-width="0.7"/>
<line x1="142.15" y1="306.67" x2="142.15" y2="316.55" stroke="#161616" stroke-width="1.0"/>
<line x1="139.65" y1="306.67" x2="144.65" y2="306.67" stroke="#161616" stroke-width="1.1"/>
<line x1="139.65" y1="316.55" x2="144.65" y2="316.55" stroke="#161616" stroke-width="1.1"/>
<rect x="148.55" y="367.57" width="9.5" height="14.53" fill="#ffbdbf" stroke="#9a7c7e" stroke-width="0.7"/>
<line x1="153.3" y1="367.13" x2="153.3" y2="368" stroke="#161616" stroke-width="1.0"/>
<line x1="150.8" y1="367.13" x2="155.8" y2="367.13" stroke="#161616" stroke-width="1.1"/>
<line x1="150.8" y1="368" x2="155.8" y2="368" stroke="#161616" stroke-width="1.1"/>
<polyline points="142.1,304.5 142.1,297.2 153.3,297.2 153.3,365" fill="none" stroke="#363636" stroke-width="1.1"/>
<text x="147.5" y="292.6" font-size="6.5" text-anchor="middle">*</text>
<line x1="33.3" y1="294.4" x2="33.3" y2="382.6" stroke="#363636" stroke-width="1.1"/>
<line x1="32.8" y1="382.1" x2="164.3" y2="382.1" stroke="#363636" stroke-width="1.1"/>
<line x1="29.7" y1="382.1" x2="33.3" y2="382.1" stroke="#363636" stroke-width="1.0"/>
<text x="28.7" y="384.3" font-size="5.8" text-anchor="end">0</text>
<line x1="29.7" y1="353.03" x2="33.3" y2="353.03" stroke="#363636" stroke-width="1.0"/>
<text x="28.7" y="355.23" font-size="5.8" text-anchor="end">2</text>
<line x1="29.7" y1="323.97" x2="33.3" y2="323.97" stroke="#363636" stroke-width="1.0"/>
<text x="28.7" y="326.17" font-size="5.8" text-anchor="end">4</text>
<line x1="29.7" y1="294.9" x2="33.3" y2="294.9" stroke="#363636" stroke-width="1.0"/>
<text x="28.7" y="297.1" font-size="5.8" text-anchor="end">6</text>
<line x1="49.3" y1="382.1" x2="49.3" y2="385.9" stroke="#363636" stroke-width="1.0"/>
<text x="49.3" y="392.5" font-size="5.8" text-anchor="middle" stroke="#111" stroke-width="0.18">24h</text>
<line x1="82" y1="382.1" x2="82" y2="385.9" stroke="#363636" stroke-width="1.0"/>
<text x="82" y="392.5" font-size="5.8" text-anchor="middle" stroke="#111" stroke-width="0.18">48h</text>
<line x1="114.7" y1="382.1" x2="114.7" y2="385.9" stroke="#363636" stroke-width="1.0"/>
<text x="114.7" y="392.5" font-size="5.8" text-anchor="middle" stroke="#111" stroke-width="0.18">96h</text>
<line x1="147.4" y1="382.1" x2="147.4" y2="385.9" stroke="#363636" stroke-width="1.0"/>
<text x="147.4" y="392.5" font-size="5.8" text-anchor="middle" stroke="#111" stroke-width="0.18">120h</text>
<text x="98.8" y="404.5" font-size="6.6" text-anchor="middle" stroke="#111" stroke-width="0.2">Hours after dsRNA injection</text>
<text x="0" y="0" font-size="6.58" text-anchor="middle" transform="translate(20.8 338.5) rotate(-90)" xml:space="preserve" stroke="#111" stroke-width="0.15">MnFtz-f1  mRNA expression</text>
<text x="2" y="293.2" font-size="14.2" text-anchor="start" stroke="#111" stroke-width="0.3">G</text>
<rect x="491.6" y="2.9" width="8.8" height="6.6" fill="#bfbffc" stroke="#4c4c6a" stroke-width="0.8"/>
<rect x="491.6" y="13.9" width="8.8" height="6.6" fill="#ffbdbf" stroke="#6a5052" stroke-width="0.8"/>
<text x="505.8" y="9.6" font-size="8.6" text-anchor="start" letter-spacing="0.95" stroke="#111" stroke-width="0.25">dsGFP</text>
<text x="505.8" y="20.1" font-size="8.6" text-anchor="start" letter-spacing="0.9" stroke="#111" stroke-width="0.25">dsMnHR4</text>
</svg>
</body></html>
